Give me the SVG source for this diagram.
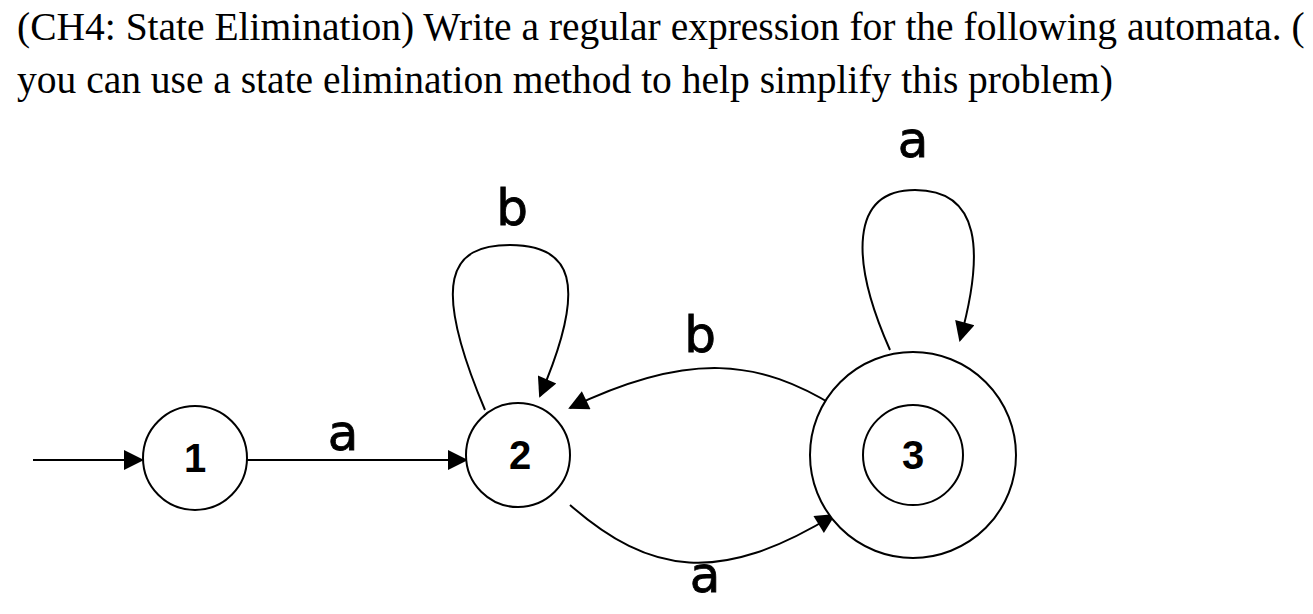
<svg xmlns="http://www.w3.org/2000/svg" width="1313" height="614" viewBox="0 0 1313 614">
<defs>
<marker id="ah" viewBox="0 0 10 10" refX="9" refY="5" markerWidth="24" markerHeight="20" markerUnits="userSpaceOnUse" orient="auto"><path d="M0 0L10 5L0 10z" fill="#000"/></marker>
<style>
.st{fill:#fff;stroke:#000;stroke-width:2}
.e{fill:none;stroke:#000;stroke-width:2;marker-end:url(#ah)}
.q{font-family:"Liberation Serif",serif;font-size:39.5px;fill:#000}
.n{font-family:"Liberation Sans",sans-serif;font-weight:bold;font-size:40px;text-anchor:middle;fill:#000}
.l{font-family:"DejaVu Sans",sans-serif;font-size:50px;stroke:#000;stroke-width:0.8;text-anchor:middle;fill:#000}
</style>
</defs>
<rect width="1313" height="614" fill="#fff"/>
<text class="q" x="17" y="40">(CH4: State Elimination) Write a regular expression for the following automata. (</text>
<text class="q" x="17" y="93">you can use a state elimination method to help simplify this problem)</text>
<g id="connectors">
<line class="e" x1="33" y1="460" x2="142" y2="460"/>
<line class="e" x1="247" y1="460" x2="466" y2="460"/>
<path class="e" d="M485 410 C430 280 450 245 510 245 C570 245 590 280 540 396"/>
<path class="e" d="M836 407 C760 360 690 350 570 408"/>
<path class="e" d="M570 505 C650 575 720 585 834 515"/>
<path class="e" d="M890 350 C850 260 850 190 915 190 C980 190 985 250 960 340"/>
<text class="l" x="343" y="450">a</text>
<text class="l" x="512" y="225">b</text>
<text class="l" x="700" y="352">b</text>
<text class="l" x="913" y="157">a</text>
<text class="l" x="705" y="592">a</text>
</g>
<g id="node1"><circle class="st" cx="195" cy="458" r="52"/><text class="n" x="195" y="472">1</text></g>
<g id="node2"><circle class="st" cx="518" cy="455" r="52"/><text class="n" x="520" y="469">2</text></g>
<g id="node3"><circle class="st" cx="913" cy="455" r="103"/><circle class="st" cx="913" cy="455" r="50"/><text class="n" x="913" y="469">3</text></g>
</svg>
